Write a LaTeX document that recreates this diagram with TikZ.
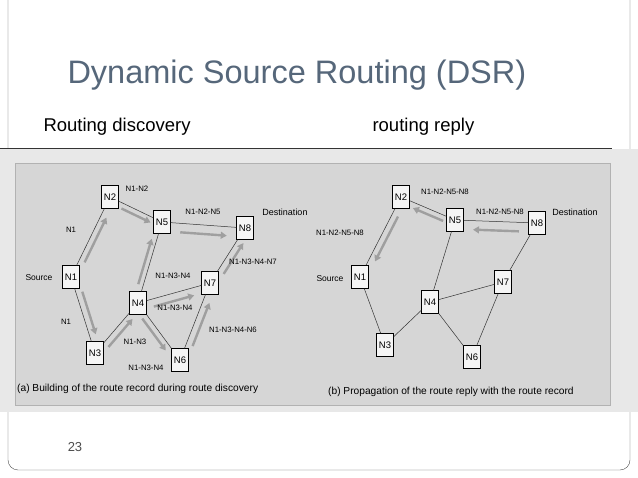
\documentclass[tikz,border=0pt]{standalone}
\usepackage{fontspec}
\setmainfont{Liberation Sans}
\usetikzlibrary{calc,arrows.meta}
\definecolor{titlec}{HTML}{56677A}
\begin{document}
\begin{tikzpicture}[x=1pt,y=-1pt,
  box/.style={draw, fill=gray!8, minimum width=17pt, minimum height=23pt, inner sep=0pt, font=\fontsize{9.5}{10}\selectfont,
    append after command={[draw,fill=gray!55] (\tikzlastnode.north west) -- ++(3,-4) -- ($(\tikzlastnode.north east)+(3,-4)$) -- (\tikzlastnode.north east) -- cycle
      ($(\tikzlastnode.north east)+(3,-4)$) -- ($(\tikzlastnode.south east)+(3,-4)$) -- (\tikzlastnode.south east)}},
  lbl/.style={font=\fontsize{7.8}{9}\selectfont, inner sep=1pt},
  link/.style={draw=black!80, line width=0.5pt},
  fat/.style={draw=gray!75, line width=2.4pt, -{Triangle[length=6pt,width=7pt]}}]
\useasboundingbox (0,0) rectangle (638,478);
\draw[black!70, rounded corners=10pt] (8,-20) -- (8,470) -- (630,470) -- (630,-20);
\node[font=\fontsize{32.5}{36}\selectfont, text=titlec, anchor=west] (title) at (64,75) {Dynamic Source Routing (DSR)};
\node[font=\fontsize{18.5}{20}\selectfont, anchor=west] (sub1) at (40,127) {Routing discovery};
\node[font=\fontsize{18.5}{20}\selectfont, anchor=west] (sub2) at (369,127) {routing reply};
\node[font=\fontsize{13}{15}\selectfont, text=black!70] (pg) at (75,447) {23};
\fill[gray!18] (0,149) rectangle (638,412);
\draw[black!80, line width=0.8pt] (0,148) -- (612,148);
\draw[gray!60, fill=gray!32] (15,163) rectangle (610,405);
% left panel
\begin{scope}
\node[box] (a2) at (110,197) {N2};
\node[box] (a5) at (162,222) {N5};
\node[box] (a8) at (245,228) {N8};
\node[box] (a1) at (71,277) {N1};
\node[box] (a7) at (210,283) {N7};
\node[box] (a4) at (138,303) {N4};
\node[box] (a3) at (95,353) {N3};
\node[box] (a6) at (180,360) {N6};
\foreach \u/\v in {a1/a2,a2/a5,a5/a8,a1/a3,a3/a4,a4/a5,a4/a7,a4/a6,a6/a7,a7/a8}
  \path[link] (\u) -- (\v);
\foreach \u/\v/\dx/\dy in {a1/a2/5/3,a2/a5/0/6,a5/a8/0/9,a1/a3/6/-2,a3/a4/4/5,a4/a5/-5/-1,a4/a7/0/8,a4/a6/-5/3,a6/a7/6/3,a7/a8/6/3}
  \draw[fat] ($($(\u)!0.22!(\v)$)+(\dx,\dy)$) -- ($($(\u)!0.78!(\v)$)+(\dx,\dy)$);
\node[lbl, font=\fontsize{8.5}{9}\selectfont] (s1) at (39,278) {Source};
\node[lbl, font=\fontsize{9}{9}\selectfont] (d1) at (285,212) {Destination};
\node[lbl] (l1) at (137,189) {N1-N2};
\node[lbl] (l2) at (71,230) {N1};
\node[lbl] (l3) at (203,212) {N1-N2-N5};
\node[lbl] (l4) at (253,262) {N1-N3-N4-N7};
\node[lbl] (l5) at (173,276) {N1-N3-N4};
\node[lbl] (l6) at (175,308) {N1-N3-N4};
\node[lbl] (l7) at (66,322) {N1};
\node[lbl] (l8) at (135,342) {N1-N3};
\node[lbl] (l9) at (233,330) {N1-N3-N4-N6};
\node[lbl] (l10) at (146,368) {N1-N3-N4};
\node[lbl, font=\fontsize{10.2}{11}\selectfont, anchor=west] (c1) at (16,389) {(a) Building of the route record during route discovery};
\end{scope}
% right panel
\begin{scope}
\node[box] (b2) at (401,197) {N2};
\node[box] (b5) at (455,220) {N5};
\node[box] (b8) at (537,223) {N8};
\node[box] (b1) at (360,277) {N1};
\node[box] (b7) at (503,282) {N7};
\node[box] (b4) at (430,302) {N4};
\node[box] (b3) at (385,345) {N3};
\node[box] (b6) at (472,357) {N6};
\foreach \u/\v in {b1/b2,b2/b5,b5/b8,b1/b3,b3/b4,b4/b5,b4/b7,b4/b6,b6/b7,b7/b8}
  \path[link] (\u) -- (\v);
\foreach \u/\v/\dx/\dy in {b5/b2/0/6,b8/b5/0/9,b2/b1/6/2}
  \draw[fat] ($($(\u)!0.22!(\v)$)+(\dx,\dy)$) -- ($($(\u)!0.78!(\v)$)+(\dx,\dy)$);
\node[lbl, font=\fontsize{8.5}{9}\selectfont] (s2) at (330,279) {Source};
\node[lbl, font=\fontsize{9}{9}\selectfont] (d2) at (575,212) {Destination};
\node[lbl] (m1) at (445,192) {N1-N2-N5-N8};
\node[lbl] (m2) at (500,212) {N1-N2-N5-N8};
\node[lbl] (m3) at (340,233) {N1-N2-N5-N8};
\node[lbl, font=\fontsize{10.2}{11}\selectfont, anchor=west] (c2) at (327,392) {(b) Propagation of the route reply with the route record};
\end{scope}
\end{tikzpicture}
\end{document}
